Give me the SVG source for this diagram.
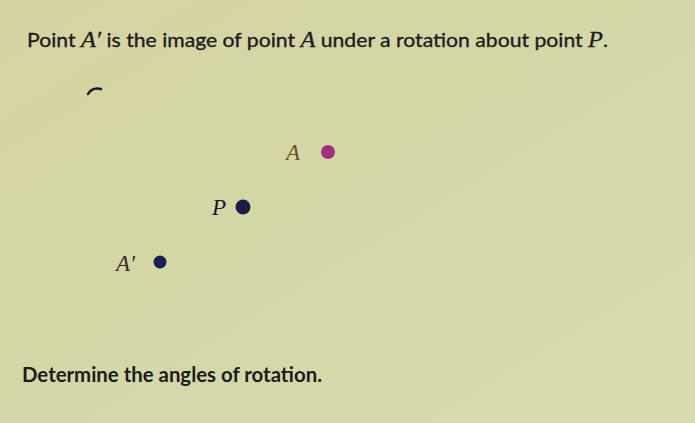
<svg xmlns="http://www.w3.org/2000/svg" width="695" height="423" viewBox="0 0 695 423">
<defs>
<linearGradient id="bg" x1="0" y1="0" x2="1" y2="1">
<stop offset="0" stop-color="#d6d4a3"/>
<stop offset="0.5" stop-color="#d4d7a7"/>
<stop offset="1" stop-color="#d8dbad"/>
</linearGradient>
<style>
.t{font-family:Lato,"Open Sans","Liberation Sans",sans-serif;font-size:20px;fill:#1c1c1c}
.m{font-family:"Liberation Serif","DejaVu Serif",serif;font-style:italic;font-size:23px}
</style>
</defs>
<rect width="695" height="423" fill="url(#bg)"/>
<text class="t" x="27" y="47" textLength="581" lengthAdjust="spacingAndGlyphs" stroke="#1c1c1c" stroke-width="0.35">Point <tspan class="m">A′</tspan> is the image of point <tspan class="m">A</tspan> under a rotation about point <tspan class="m">P</tspan>.</text>
<path d="M88 94 Q92 87 101 89" fill="none" stroke="#1a1a2a" stroke-width="2.5" stroke-linecap="round"/>
<g id="A">
<text class="m" x="286" y="160" fill="#6e4e1e">A</text>
<circle cx="328" cy="152" r="7" fill="#a2307e"/>
</g>
<g id="P">
<text class="m" x="212" y="215" fill="#15152a">P</text>
<circle cx="243" cy="207" r="7.5" fill="#1b1d45"/>
</g>
<g id="Aprime">
<text class="m" x="116" y="271" fill="#3a2a20">A′</text>
<circle cx="160" cy="262" r="6.5" fill="#1b1d55"/>
</g>
<text class="t" x="22" y="382" textLength="300" lengthAdjust="spacingAndGlyphs" font-weight="bold">Determine the angles of rotation.</text>
</svg>
